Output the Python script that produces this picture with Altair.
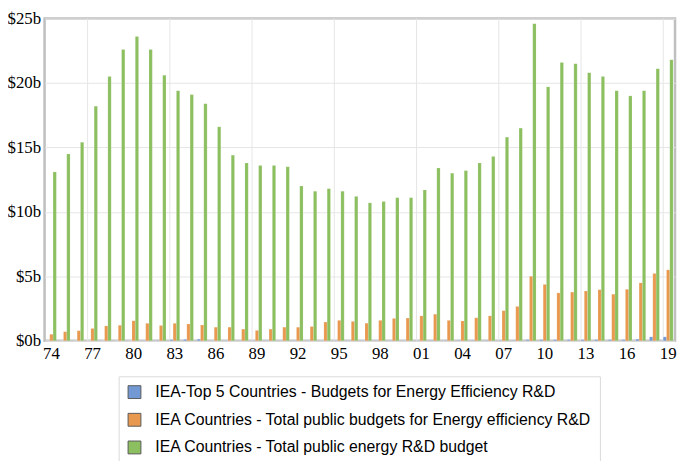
import pandas as pd
import altair as alt

# Public energy R&D budgets, IEA countries, billions USD
years = list(range(1974, 2020))

top5_efficiency = [
    0.0, 0.0, 0.0, 0.0, 0.0, 0.0, 0.0, 0.02, 0.03, 0.08, 0.1, 0.12,
    0.02, 0.02, 0.02, 0.02, 0.02, 0.02, 0.02, 0.02, 0.02, 0.02, 0.02, 0.02,
    0.02, 0.02, 0.02, 0.02, 0.03, 0.03, 0.03, 0.03, 0.03, 0.03, 0.03, 0.08,
    0.08, 0.08, 0.08, 0.08, 0.08, 0.08, 0.08, 0.12, 0.3, 0.3,
]

total_efficiency = [
    0.5, 0.7, 0.78, 0.95, 1.15, 1.2, 1.55, 1.35, 1.18, 1.35, 1.3, 1.22,
    1.05, 1.05, 0.9, 0.8, 0.9, 1.05, 1.05, 1.1, 1.45, 1.58, 1.5, 1.36,
    1.58, 1.73, 1.76, 1.93, 2.06, 1.58, 1.53, 1.78, 1.93, 2.33, 2.66, 5.0,
    4.37, 3.71, 3.77, 3.86, 3.96, 3.61, 3.99, 4.49, 5.22, 5.5,
]

total_energy = [
    13.1, 14.5, 15.4, 18.2, 20.5, 22.6, 23.6, 22.6, 20.6, 19.4, 19.1, 18.4,
    16.6, 14.4, 13.8, 13.6, 13.6, 13.5, 12.0, 11.6, 11.8, 11.6, 11.2, 10.7,
    10.8, 11.1, 11.1, 11.7, 13.4, 13.0, 13.2, 13.8, 14.3, 15.8, 16.5, 24.6,
    19.7, 21.6, 21.5, 20.8, 20.5, 19.4, 19.0, 19.4, 21.1, 21.8,
]

series_names = [
    "IEA-Top 5 Countries - Budgets for Energy Efficiency R&D",
    "IEA Countries - Total public budgets for Energy efficiency R&D",
    "IEA Countries - Total public energy R&D budget",
]
series_colors = ["#7299d4", "#e8994f", "#8cbf5f"]

label_years = list(range(1974, 2020, 3))
grid_years = list(range(1977, 2020, 6))

rows = []
for name, values in zip(series_names, [top5_efficiency, total_efficiency, total_energy]):
    for y, v in zip(years, values):
        rows.append({"year": y, "series": name, "value": v})
df = pd.DataFrame(rows)
grid_df = pd.DataFrame({"year": grid_years})

serif = "Liberation Serif, Times New Roman, serif"
x_scale = alt.Scale(domain=years, paddingInner=0.28, paddingOuter=0.14)
x_axis = alt.Axis(
    values=label_years,
    labelExpr="substring(datum.label, 2)",
    labelAngle=0,
    labelFont=serif,
    labelFontSize=17,
    labelColor="#000000",
    labelPadding=5,
    ticks=False,
    domain=False,
    grid=False,
)

grid = (
    alt.Chart(grid_df)
    .mark_rule(color="#e6e6e6", strokeWidth=1)
    .encode(x=alt.X("year:O", scale=x_scale, bandPosition=0, title=None, axis=x_axis))
)

bars = (
    alt.Chart(df)
    .mark_bar(stroke="#ffffff", strokeOpacity=0.35, strokeWidth=0.4)
    .encode(
        x=alt.X("year:O", scale=x_scale, title=None, axis=x_axis),
        xOffset=alt.XOffset("series:N", sort=series_names, scale=alt.Scale(paddingInner=0)),
        y=alt.Y(
            "value:Q",
            title=None,
            scale=alt.Scale(domain=[0, 25], nice=False),
            axis=alt.Axis(
                values=[0, 5, 10, 15, 20, 25],
                labelExpr="'$' + datum.value + 'b'",
                labelFont=serif,
                labelFontSize=17,
                labelColor="#000000",
                labelPadding=4,
                ticks=False,
                domain=False,
                grid=True,
                gridColor="#e6e6e6",
            ),
        ),
        color=alt.Color(
            "series:N",
            sort=series_names,
            scale=alt.Scale(domain=series_names, range=series_colors),
            legend=alt.Legend(
                title=None,
                orient="none",
                legendX=75,
                legendY=362,
                direction="vertical",
                symbolType="square",
                symbolSize=169,
                symbolStrokeColor="#595959",
                symbolStrokeWidth=1,
                symbolOpacity=1,
                labelFont="Liberation Sans",
                labelFontSize=16,
                labelColor="#000000",
                labelOffset=13,
                labelLimit=600,
                rowPadding=10,
                padding=8,
                strokeColor="#d9d9d9",
                fillColor="#ffffff",
            ),
        ),
    )
)

chart = (
    (grid + bars)
    .properties(
        width=638,
        height=326,
        autosize=alt.AutoSizeParams(type="none"),
        padding={"left": 37, "top": 8, "right": 2, "bottom": 119},
        background="#ffffff",
    )
    .configure_view(stroke="#bfbfbf", strokeWidth=2.5)
)

chart.save("out.html", embed_options={"renderer": "svg", "actions": False})
